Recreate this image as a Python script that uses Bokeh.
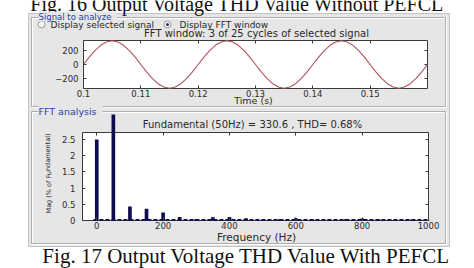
from bokeh.plotting import figure
from bokeh.models import Label, Range1d, LinearAxis, FixedTicker
from bokeh.embed import file_html
from bokeh.resources import INLINE

# ---------------- data ----------------
time_s = [0.100, 0.101, 0.102, 0.103, 0.104, 0.105, 0.106, 0.107, 0.108, 0.109,
          0.110, 0.111, 0.112, 0.113, 0.114, 0.115, 0.116, 0.117, 0.118, 0.119,
          0.120, 0.121, 0.122, 0.123, 0.124, 0.125, 0.126, 0.127, 0.128, 0.129,
          0.130, 0.131, 0.132, 0.133, 0.134, 0.135, 0.136, 0.137, 0.138, 0.139,
          0.140, 0.141, 0.142, 0.143, 0.144, 0.145, 0.146, 0.147, 0.148, 0.149,
          0.150, 0.151, 0.152, 0.153, 0.154, 0.155, 0.156, 0.157, 0.158, 0.159,
          0.160]
voltage = [0, 102, 194, 268, 314, 331, 314, 268, 194, 102,
           0, -102, -194, -268, -314, -331, -314, -268, -194, -102,
           0, 102, 194, 268, 314, 331, 314, 268, 194, 102,
           0, -102, -194, -268, -314, -331, -314, -268, -194, -102,
           0, 102, 194, 268, 314, 331, 314, 268, 194, 102,
           0, -102, -194, -268, -314, -331, -314, -268, -194, -102,
           0]
time_ticks = [0.10, 0.11, 0.12, 0.13, 0.14, 0.15]
time_tick_labels = ["0.1", "0.11", "0.12", "0.13", "0.14", "0.15"]
volt_ticks = [-200, 0, 200]

freq_hz = [0, 50, 100, 150, 200, 250, 300, 350, 400, 450, 500,
           550, 600, 650, 700, 750, 800, 850, 900, 950, 1000]
mag_pct = [2.5, 100, 0.43, 0.36, 0.25, 0.11, 0.05, 0.10, 0.11, 0.07, 0.02,
           0.04, 0.07, 0.03, 0.02, 0.04, 0.06, 0.03, 0.02, 0.03, 0.01]
freq_ticks = [0, 200, 400, 600, 800, 1000]
mag_ticks = [0, 0.5, 1, 1.5, 2, 2.5]
mag_tick_labels = ["0", "0.5", "1", "1.5", "2", "2.5"]

fundamental_hz = 50
fundamental_amp = 330.6
thd_pct = 0.68
fft_cycles = 3
total_cycles = 25

# ---------------- styling ----------------
W, H = 474, 268
PANEL = "#e6e6e6"
GROUP_LINE = "#aeaeae"
TXT = "#2a2a2a"
AX = "#3a3a3a"
BLUE = "#2c3fa6"
BAR = "#0c0c4e"
SANS = "DejaVu Sans"
SERIF = "Liberation Serif"

# one canvas in page pixels (y downwards); the two plots use their own ranges
p = figure(width=W, height=H, x_range=Range1d(0, W), y_range=Range1d(H, 0),
           x_axis_type=None, y_axis_type=None, output_backend="svg",
           toolbar_location=None, min_border=0, outline_line_color=None,
           background_fill_color="white", border_fill_color="white", title=None)
p.grid.visible = False


def ext(pa, va, pb, vb, P0, P1):
    k = (vb - va) / (pb - pa)
    return Range1d(va + (P0 - pa) * k, va + (P1 - pa) * k)


# top plot: frame x 83..427, y 40..88 ; bottom plot: frame x 82..428, y 132..220
tx0, tx1, ty0, ty1 = 0.10, 0.16, -335, 335
fx0, fx1 = -43, 1000
p.extra_x_ranges = {"t_x": ext(83, tx0, 427, tx1, 0, W),
                    "f_x": ext(82, fx0, 428, fx1, 0, W)}
p.extra_y_ranges = {"t_y": ext(88, ty0, 40, ty1, H, 0),
                    "f_y": ext(220, 0.0, 139, 2.5, H, 0)}
f_box_top = (220 - 132) / ((220 - 139) / 2.5)
f_clip = (220 - 114) / ((220 - 139) / 2.5)

# panel and group boxes
p.quad(left=28, right=449, top=13, bottom=246, fill_color=PANEL, line_color="#c4c4c4")
for (l, r, t, b) in [(31, 445, 17, 106), (31, 445, 111, 243)]:
    p.quad(left=l + 1, right=r + 1, top=t + 1, bottom=b + 1, fill_alpha=0,
           line_color="white")
    p.quad(left=l, right=r, top=t, bottom=b, fill_alpha=0, line_color=GROUP_LINE)

# radio buttons
p.scatter(x=[41, 167], y=[24, 24], size=7, marker="circle", fill_color="#f4f4f4",
          line_color="#9a9a9a")
p.scatter(x=[167], y=[24], size=3, marker="circle", fill_color="#2a2a6a",
          line_color=None)

# top plot
p.quad(left=tx0, right=tx1, bottom=ty0, top=ty1, x_range_name="t_x", y_range_name="t_y",
       fill_color="white", line_color=AX)
p.line(time_s, voltage, x_range_name="t_x", y_range_name="t_y",
       line_color="#b0545c", line_width=1.1)

# bottom plot
p.quad(left=fx0, right=fx1, bottom=0, top=f_box_top, x_range_name="f_x",
       y_range_name="f_y", fill_color="white", line_color=AX)
p.vbar(x=freq_hz, top=[min(m, f_clip) for m in mag_pct], width=11, x_range_name="f_x",
       y_range_name="f_y", fill_color=BAR, line_color=None)
p.line(x=[-10, 1000], y=[0.018, 0.018], x_range_name="f_x", y_range_name="f_y",
       line_color=BAR, line_width=1.6, line_dash="4 2")


def add_axis(side, xr, yr, loc, ticks, labels=None, show=True, standoff=1):
    ax = LinearAxis(x_range_name=xr, y_range_name=yr, fixed_location=loc,
                    ticker=FixedTicker(ticks=ticks))
    if labels:
        ax.major_label_overrides = {t: l for t, l in zip(ticks, labels)}
    ax.axis_line_color = None
    ax.major_tick_in = 3
    ax.major_tick_out = 0
    ax.major_tick_line_color = AX
    ax.minor_tick_line_color = None
    ax.major_label_text_font = SANS
    ax.major_label_text_font_size = "8.5px"
    ax.major_label_text_color = TXT if show else None
    ax.major_label_standoff = standoff
    p.add_layout(ax, side)


add_axis("below", "t_x", "t_y", ty0, time_ticks, time_tick_labels)
add_axis("above", "t_x", "t_y", ty1, time_ticks, show=False)
add_axis("left", "t_x", "t_y", tx0, volt_ticks, standoff=5)
add_axis("right", "t_x", "t_y", tx1, volt_ticks, show=False)

add_axis("below", "f_x", "f_y", 0, freq_ticks)
add_axis("above", "f_x", "f_y", f_box_top, freq_ticks, show=False)
add_axis("left", "f_x", "f_y", fx0, mag_ticks, mag_tick_labels, standoff=7)
add_axis("right", "f_x", "f_y", fx1, mag_ticks, show=False)


def lab(x, y, text, size="8px", color=TXT, align="left", baseline="middle",
        font=SANS, angle=0, bg=None):
    p.add_layout(Label(x=x, y=y, text=text, text_font=font, text_font_size=size,
                       text_color=color, text_align=align, text_baseline=baseline,
                       angle=angle, background_fill_color=bg))


lab(237, 3, "Fig. 16 Output Voltage THD Value Without PEFCL", size="20px",
    color="#111111", align="center", font=SERIF)
lab(38, 16, " Signal to analyze ", size="8.5px", color=BLUE, bg=PANEL)
lab(50, 24, "Display selected signal", size="9px")
lab(179, 24, "Display FFT window", size="9px")
lab(256, 33, f"FFT window: {fft_cycles} of {total_cycles} cycles of selected signal",
    size="10px", align="center")
lab(253, 100, "Time (s)", size="9.5px", align="center")

lab(38, 111, " FFT analysis ", size="9.5px", color=BLUE, bg=PANEL)
lab(252, 124, f"Fundamental ({fundamental_hz}Hz) = {fundamental_amp} , THD= {thd_pct}%",
    size="10px", align="center")
lab(48, 173, "Mag (% of Fundamental)", size="6.5px", align="center", angle=1.5708)
lab(256, 236, "Frequency (Hz)", size="10.5px", align="center")
lab(246, 255, "Fig. 17 Output Voltage THD Value With PEFCL", size="21px",
    color="#111111", align="center", font=SERIF)

open("out.html", "w").write(file_html(p, INLINE))
